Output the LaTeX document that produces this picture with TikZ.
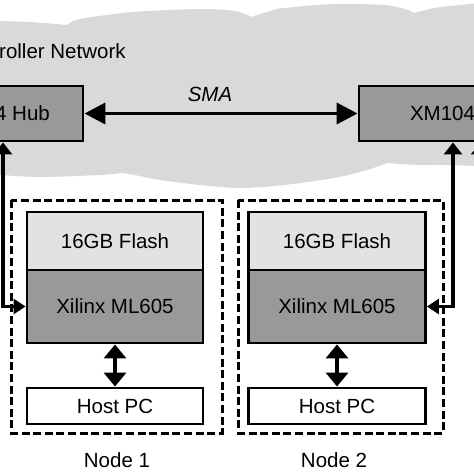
\documentclass[tikz,border=0pt]{standalone}
\usepackage{fontspec}
\setmainfont{Liberation Sans}
\usetikzlibrary{arrows.meta}
\definecolor{cloudgray}{HTML}{D9D9D9}
\definecolor{darkbox}{HTML}{999999}
\definecolor{lightbox}{HTML}{E2E2E2}
\begin{document}
\begin{tikzpicture}[x=1pt,y=-1pt,
  txt/.style={font=\fontsize{20.5}{24}\selectfont, inner sep=0pt},
  box/.style={draw=black, line width=2.9pt, inner sep=0pt, font=\fontsize{20.5}{24}\selectfont},
  nodebox/.style={draw=black, line width=3pt, dash pattern=on 8pt off 3.6pt},
  bigarr/.style={line width=3.8pt, {Triangle[length=21pt,width=21pt]}-{Triangle[length=21pt,width=21pt]}},
  sidearr/.style={line width=3.8pt, {Triangle[length=12pt,width=18pt]}-{Triangle[length=12pt,width=15pt]}},
  innerarr/.style={line width=4.2pt, {Triangle[length=14pt,width=22pt]}-{Triangle[length=14pt,width=22pt]}},
  uparr/.style={line width=3.8pt, -{Triangle[length=12pt,width=20pt]}}
]
\useasboundingbox (0,0) rectangle (474,474);
\clip (0,0) rectangle (474,474);
% cloud
\fill[cloudgray] plot[smooth] coordinates {(-5,21) (30,22) (67,25)}
  -- plot[smooth] coordinates {(67,25) (80,19) (133,12) (200,9) (235,11) (252,17)}
  -- plot[smooth] coordinates {(252,17) (270,11) (284,8) (334,4) (384,5) (405,9) (414,13)}
  -- plot[smooth] coordinates {(414,13) (430,9) (441,7) (480,3)}
  -- (480,166)
  -- plot[smooth] coordinates {(480,166) (440,165) (417,165) (387,163)}
  -- plot[smooth] coordinates {(387,163) (367,170) (334,178) (284,185) (240,188) (200,185) (160,180) (140,176) (123,173)}
  -- plot[smooth] coordinates {(123,173) (100,175) (40,177) (0,175) (-5,175)}
  -- cycle;
\node[txt, anchor=base west] (netlabel) at (-1,58) {roller Network};
% hubs
\node[box, fill=darkbox, minimum width=121pt, minimum height=55pt] (hubL) at (22.5,113.5) {4 Hub};
\node[box, fill=darkbox, minimum width=167pt, minimum height=55pt] (hubR) at (442.5,113.5) {XM104};
\draw[bigarr] (hubL.east) -- (hubR.west);
\node[txt, font=\fontsize{20.5}{24}\selectfont\itshape, anchor=base] (sma) at (210,101) {SMA};
% node groups
\draw[nodebox] (11,200) rectangle (222,433);
\draw[nodebox] (238,200) rectangle (443,433);
\node[box, fill=lightbox, minimum width=176pt, minimum height=58pt] (f1) at (115,241) {16GB Flash};
\node[box, fill=darkbox, minimum width=176pt, minimum height=73pt] (x1) at (115,306.5) {Xilinx ML605};
\node[box, fill=white, minimum width=176pt, minimum height=36pt] (h1) at (115,406) {Host PC};
\node[box, fill=lightbox, minimum width=177pt, minimum height=58pt] (f2) at (337,241) {16GB Flash};
\node[box, fill=darkbox, minimum width=177pt, minimum height=73pt] (x2) at (337,306.5) {Xilinx ML605};
\node[box, fill=white, minimum width=177pt, minimum height=36pt] (h2) at (337,406) {Host PC};
\draw[innerarr] (x1.south) -- (h1.north);
\draw[innerarr] (x2.south) -- (h2.north);
\node[txt, anchor=base] (n1) at (117,467) {Node 1};
\node[txt, anchor=base] (n2) at (334,467) {Node 2};
% side connections
\coordinate (lc) at (3,306.5);
\coordinate (rc) at (453,306.5);
\draw[sidearr] (hubL.south -| lc) -- (lc) -- (x1.west);
\draw[sidearr] (hubR.south -| rc) -- (rc) -- (x2.east);
\coordinate (rx) at (481,220);
\draw[uparr] (rx) -- (hubR.south -| rx);
\end{tikzpicture}
\end{document}
